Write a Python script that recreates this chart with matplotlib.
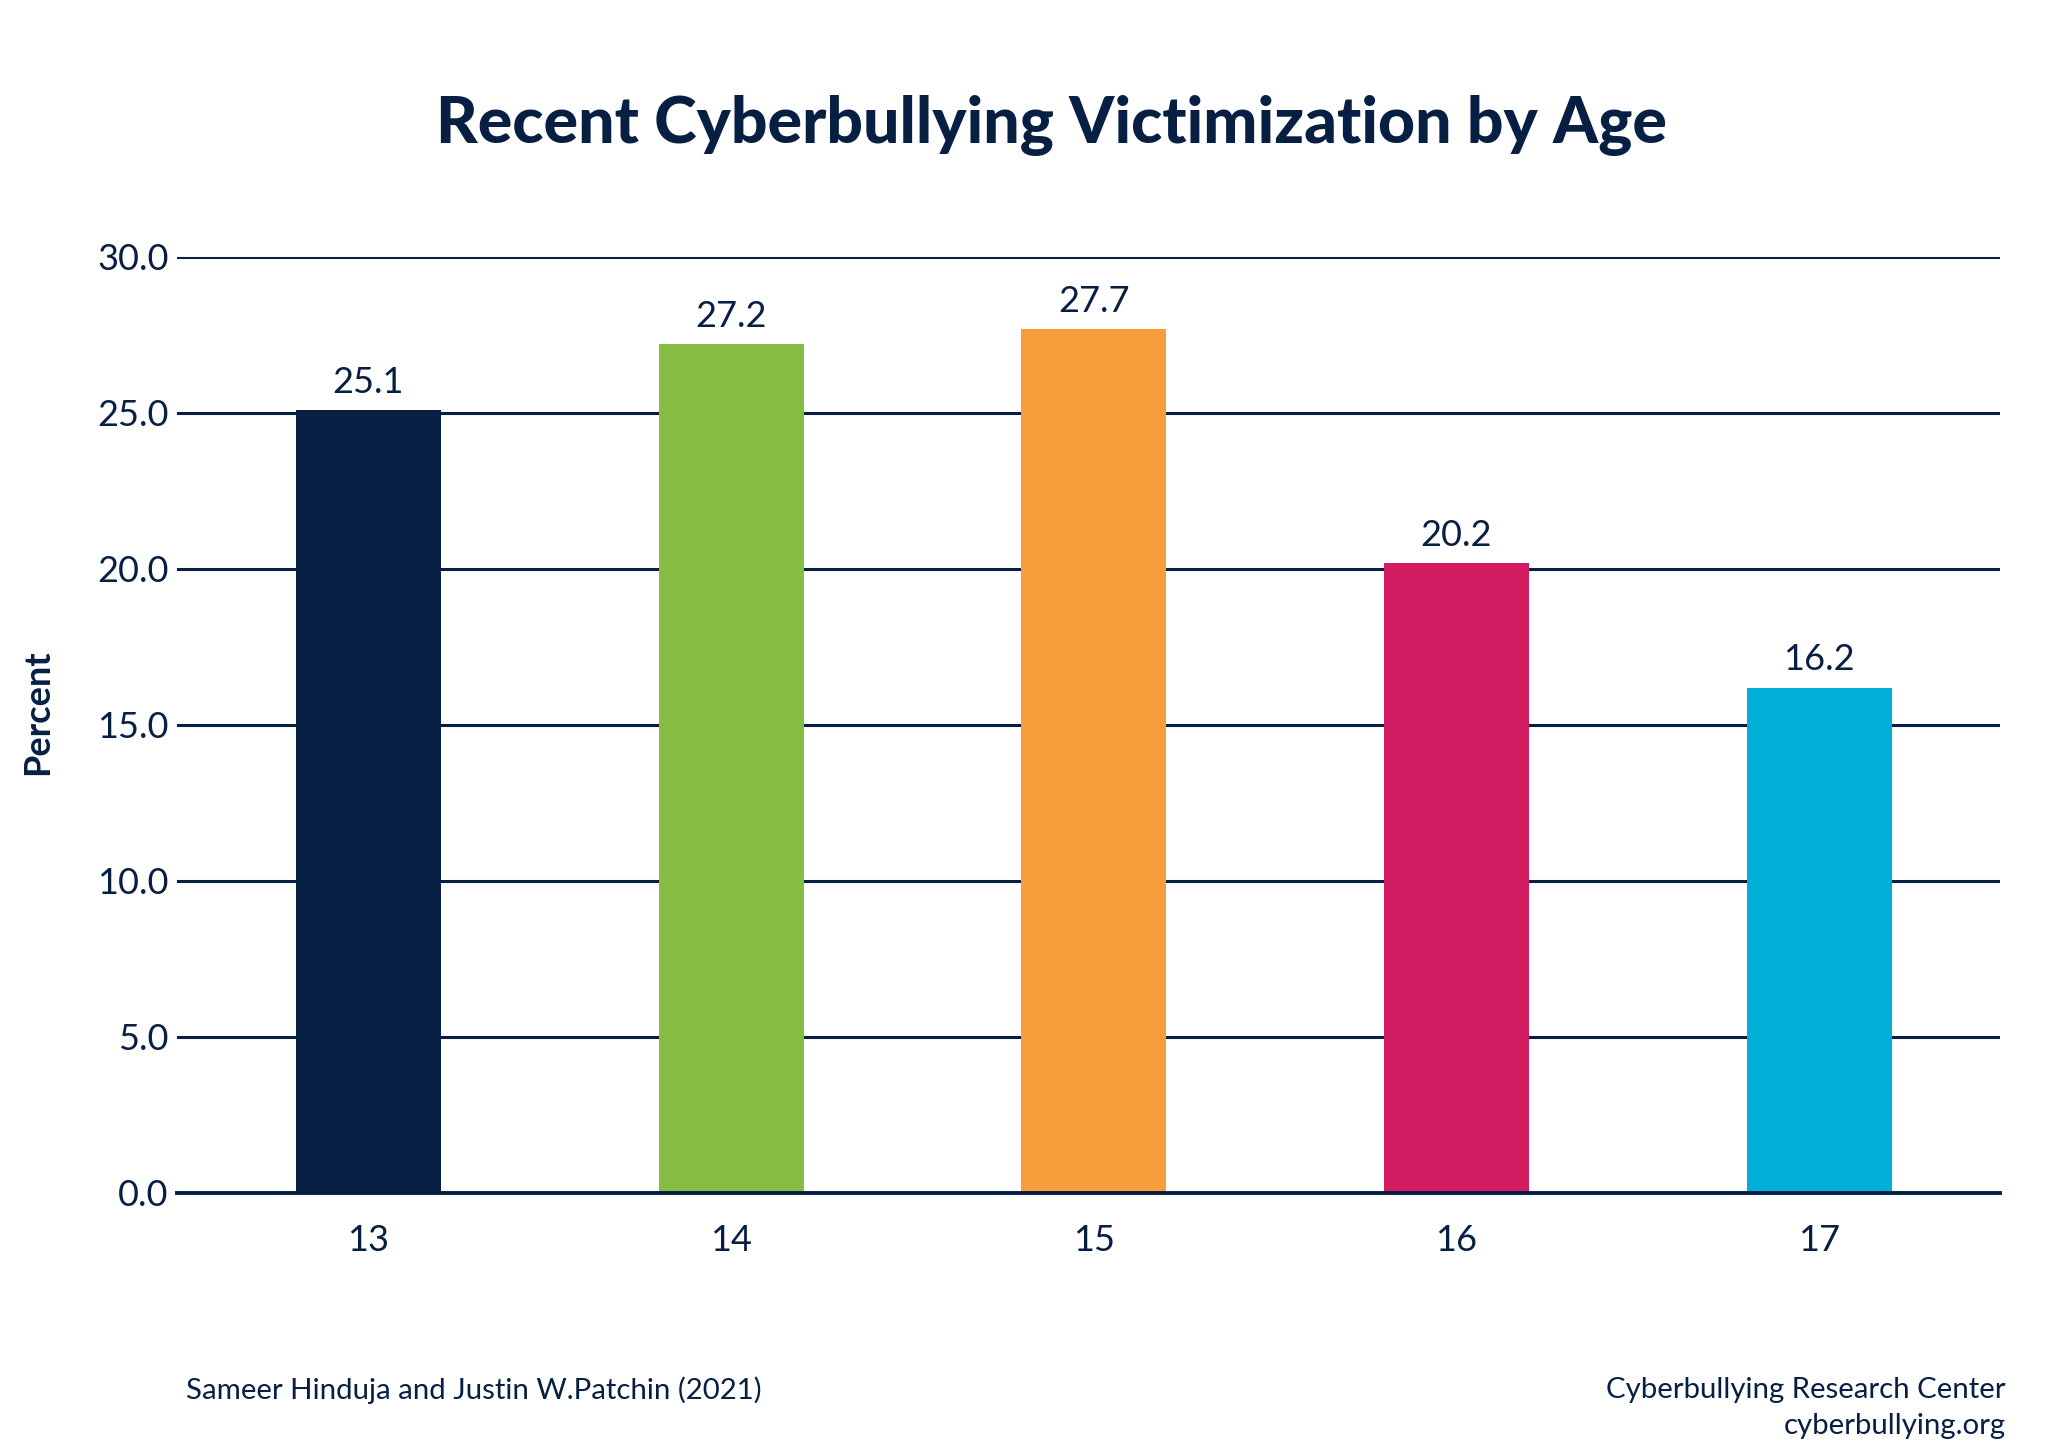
import matplotlib
matplotlib.use("Agg")
import matplotlib.pyplot as plt

ages = ["13", "14", "15", "16", "17"]
percent = [25.1, 27.2, 27.7, 20.2, 16.2]
bar_colors = ["#061F42", "#86BC42", "#F79D3C", "#D31C62", "#00AFD6"]
yticks = [0, 5, 10, 15, 20, 25, 30]
title = "Recent Cyberbullying Victimization by Age"
ylabel = "Percent"
source_left = "Sameer Hinduja and Justin W.Patchin (2021)"
source_right = "Cyberbullying Research Center\ncyberbullying.org"

navy = "#061F42"
plt.rcParams['font.family'] = ['Lato', 'DejaVu Sans']

W, H = 2048, 1454
fig = plt.figure(figsize=(W / 100, H / 100), dpi=100)
left, right = 177 / W, 2000 / W
top, bottom = 1 - 257 / H, 1 - 1193 / H
ax = fig.add_axes([left, bottom, right - left, top - bottom])

x = list(range(len(ages)))
ax.bar(x, percent, width=0.4, color=bar_colors, zorder=3)
for xi, v in zip(x, percent):
    ax.annotate(f"{v:.1f}", (xi, v), xytext=(0, 8), textcoords="offset points",
                ha="center", va="bottom", fontsize=26, color=navy)

ax.set_ylim(0, 30)
ax.set_xlim(-0.528, 4.499)
ax.set_yticks(yticks)
ax.set_yticklabels([f"{t:.1f}" for t in yticks], fontsize=26, color=navy)
ax.set_xticks(x)
ax.set_xticklabels(ages, fontsize=26, color=navy)
ax.tick_params(axis="y", length=0, pad=6)
ax.tick_params(axis="x", length=0, pad=22)
ax.yaxis.grid(True, color=navy, linewidth=2.2, zorder=1)
ax.set_axisbelow(True)
for s in ["top", "right", "left"]:
    ax.spines[s].set_visible(False)
ax.spines["bottom"].set_color(navy)
ax.spines["bottom"].set_linewidth(2.8)
ax.spines["bottom"].set_zorder(4)

fig.text(38 / W, 1 - 712 / H, ylabel, rotation=90, ha="center", va="center",
         fontsize=26, fontweight="bold", color=navy)
fig.text(1052 / W, 1 - 125 / H, title, ha="center", va="center",
         fontsize=46.4, fontweight="black", color=navy)
fig.text(186 / W, 1 - 1390 / H, source_left, ha="left", va="center",
         fontsize=21.2, color=navy)
fig.text(2006 / W, 1 - 1408 / H, source_right, ha="right", va="center",
         fontsize=21.2, color=navy, linespacing=1.5)

fig.savefig("out.png", dpi=100, facecolor="white")
